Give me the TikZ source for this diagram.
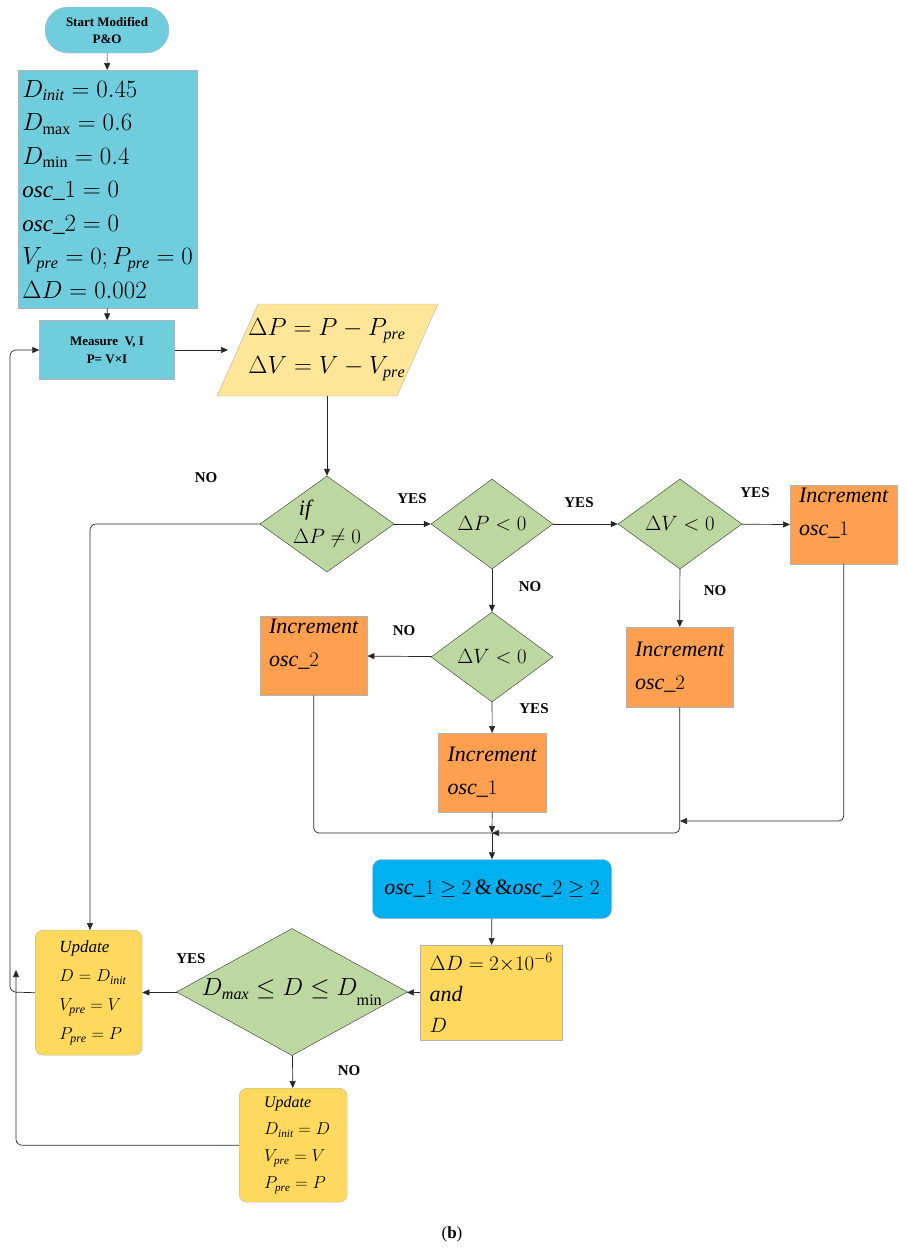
\documentclass[tikz,border=0pt]{standalone}
\usepackage{fontspec}
\setmainfont{Liberation Serif}
\usetikzlibrary{shapes.geometric,arrows.meta}
\definecolor{cy}{HTML}{70CDDE}
\definecolor{pa}{HTML}{FFE699}
\definecolor{gr}{HTML}{BDD7A0}
\definecolor{orc}{HTML}{FF9F50}
\definecolor{ye}{HTML}{FFD95E}
\definecolor{bl}{HTML}{00B0F0}
\begin{document}
\begin{tikzpicture}[x=1pt,y=-1pt,
 box/.style={draw=gray!70,minimum width=#1,inner sep=2pt},
 dia/.style={diamond,draw=black!80,fill=gr,aspect=1.4,inner sep=0pt},
 arr/.style={-{Triangle[length=7pt,width=6pt]},black!85,line width=0.7pt},
 ln/.style={black!85,line width=0.7pt,rounded corners=5pt},
 lab/.style={font=\bfseries\fontsize{15}{15}\selectfont}]
\useasboundingbox (0,0) rectangle (906,1250);
% nodes
\node[draw=gray!60,fill=cy,rounded corners=23pt,minimum width=124pt,minimum height=46pt,align=center,font=\bfseries\fontsize{13}{17}\selectfont] (start) at (107,30) {Start Modified\\P\&O};
\node[draw=gray!60,fill=cy,minimum width=179pt,minimum height=238pt,align=left,anchor=north west,inner sep=2pt,font=\fontsize{23}{33.5}\selectfont] (init) at (18,70) {$D_{\mathit{init}}=0.45$\\$D_{\max}=0.6$\\$D_{\min}=0.4$\\$\mathit{osc}\_1=0$\\$\mathit{osc}\_2=0$\\$V_{\mathit{pre}}=0;P_{\mathit{pre}}=0$\\$\Delta D=0.002$};
\node[draw=gray!60,fill=cy,minimum width=135pt,minimum height=59pt,align=center,font=\bfseries\fontsize{13}{18}\selectfont] (meas) at (107,350) {Measure\ \ V, I\\P= V×I};
\fill[pa,draw=gray!60] (217,396) -- (258,304) -- (438,304) -- (397,396) -- cycle;
\node[minimum width=180pt,minimum height=92pt,align=left,font=\fontsize{23}{38}\selectfont,inner sep=0pt] (par) at (327,350) {$\Delta P=P-P_{\mathit{pre}}$\\$\Delta V=V-V_{\mathit{pre}}$};
\node[dia,minimum width=124pt,minimum height=90pt,align=center,font=\fontsize{22}{28}\selectfont] (d1) at (327,524) {$\mathit{if}$\hspace*{2em}\\$\Delta P\neq0$};
\node[dia,minimum width=122pt,minimum height=90pt,font=\fontsize{22}{24}\selectfont] (d2) at (492,524) {$\Delta P<0$};
\node[dia,minimum width=124pt,minimum height=90pt,font=\fontsize{22}{24}\selectfont] (d3) at (680,524) {$\Delta V<0$};
\node[dia,minimum width=122pt,minimum height=90pt,font=\fontsize{22}{24}\selectfont] (d4) at (492,657) {$\Delta V<0$};
\tikzset{inc/.style={draw=gray!60,fill=orc,minimum width=107pt,minimum height=79pt,align=left,font=\fontsize{22}{33}\selectfont,inner sep=3pt}}
\node[inc,anchor=north west] (i1) at (790,485) {$\mathit{Increment}$\\$\mathit{osc}\_1$\\[-8pt]};
\node[inc,anchor=north west] (i2) at (260,616) {$\mathit{Increment}$\\$\mathit{osc}\_2$\\[-8pt]};
\node[inc,anchor=north west,minimum height=80pt] (i3) at (626,627) {$\mathit{Increment}$\\$\mathit{osc}\_2$};
\node[inc,anchor=north west,minimum width=108pt] (i4) at (438,733) {$\mathit{Increment}$\\$\mathit{osc}\_1$};
\node[draw=gray!60,fill=bl,rounded corners=9pt,minimum width=239pt,minimum height=59pt,font=\fontsize{22}{24}\selectfont] (cond) at (492,889) {$\mathit{osc}\_1\geq2\,\&\,\&\mathit{osc}\_2\geq2$};
\node[draw=gray!60,fill=ye,anchor=north west,minimum width=142pt,minimum height=95pt,align=left,font=\fontsize{22}{31}\selectfont,inner sep=3pt] (dd) at (420,945) {$\Delta D=2{\times}10^{-6}$\\$\mathit{and}$\\$D$};
\node[dia,minimum width=231pt,minimum height=127pt,aspect=1.8,font=\fontsize{23}{24}\selectfont] (d5) at (292,992) {$D_{\mathit{max}}\leq D\leq D_{\raisebox{-6pt}{$\scriptstyle\mathrm{min}$}}$};
\node[draw=gray!60,fill=ye,rounded corners=8pt,anchor=north west,minimum width=107pt,minimum height=125pt,align=left,font=\fontsize{17}{29}\selectfont,inner sep=4pt] (u1) at (35,930) {\ \ $\mathit{Update}$\\\ \ $D=D_{\mathit{init}}$\\\ \ $V_{\mathit{pre}}=V$\\\ \ $P_{\mathit{pre}}=P$};
\node[draw=gray!60,fill=ye,rounded corners=8pt,anchor=north west,minimum width=108pt,minimum height=114pt,align=left,font=\fontsize{16}{27}\selectfont,inner sep=4pt] (u2) at (239,1088) {\ \ $\mathit{Update}$\\\ \ $D_{\mathit{init}}=D$\\\ \ $V_{\mathit{pre}}=V$\\\ \ $P_{\mathit{pre}}=P$};
\node[font=\fontsize{17}{17}\selectfont] (cap) at (452,1234) {(\textbf{b})};
% connectors
\draw[arr] (start) -- (init);
\draw[arr] (init) -- (meas);
\draw[arr] (meas) -- (par.west -| 228,0);
\draw[arr] (par.south -| 327,0) -- (d1);
\draw[arr] (d1) -- (d2);
\draw[arr] (d2) -- (d3);
\draw[arr] (d3) -- (i1);
\draw[arr] (d2) -- (d4);
\draw[arr] (d4) -- (i2);
\draw[arr] (d4) -- (i4);
\draw[arr] (d3) -- (i3);
\coordinate (j) at (492,833);
\coordinate (j2) at (680,821);
\draw[ln] (i2.south) |- (j);
\draw[arr] (i4.south) -- (j);
\draw[arr,rounded corners=5pt] (i3.south) |- (j);
\draw[arr,rounded corners=5pt] (i1.south) |- (j2);
\draw[arr] (j) -- (cond);
\draw[arr] (cond) -- (dd);
\draw[arr] (dd) -- (d5);
\draw[arr] (d5) -- (u1);
\draw[arr] (d5) -- (u2);
\draw[arr,rounded corners=6pt] (d1.west) -| (u1.north -| 90,0);
\draw[arr,rounded corners=6pt] (u1.west) -- (10,992) -- (10,350) -- (meas.west);
\coordinate (fb) at (16,970);
\draw[arr,rounded corners=6pt] (u2.west) -| (fb);
% labels
\node[lab] at (206,478) {NO};
\node[lab] at (412,499) {YES};
\node[lab] at (579,503) {YES};
\node[lab] at (755,493) {YES};
\node[lab] at (530,587) {NO};
\node[lab] at (715,591) {NO};
\node[lab] at (404,631) {NO};
\node[lab] at (534,709) {YES};
\node[lab] at (191,959) {YES};
\node[lab] at (349,1071) {NO};
\end{tikzpicture}
\end{document}
